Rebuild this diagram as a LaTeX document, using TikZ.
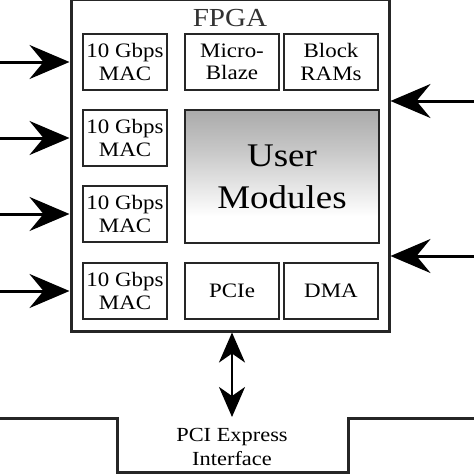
\documentclass[tikz,border=0pt]{standalone}
\usepackage{fontspec}
\setmainfont[FakeStretch=1.12]{Liberation Serif}
\usetikzlibrary{arrows.meta}

\pgfdeclareverticalshading{usershade}{100bp}{color(0bp)=(white); color(35bp)=(white); color(60bp)=(black!22); color(100bp)=(black!52)}

\begin{document}
\begin{tikzpicture}[x=1pt,y=-1pt,
    blk/.style={draw=black!85,line width=1.8pt,rectangle,inner sep=0pt,
        minimum width=94pt,minimum height=56pt,align=center,
        font=\fontsize{20.5}{22.5}\selectfont,text=black},
    mac/.style={blk,minimum width=84pt},
    bigarrow/.style={line width=3pt,-{Stealth[length=40pt,width=34pt,inset=14pt]}},
    busarrow/.style={line width=2.6pt,{Stealth[length=30pt,width=26pt,inset=9pt]}-{Stealth[length=30pt,width=26pt,inset=9pt]}}]
    \useasboundingbox (0,0) rectangle (474,474);

    \node[draw=black!85,line width=3pt,minimum width=318pt,minimum height=331.5pt,inner sep=0pt] (fpga) at (230,165.25) {};
    \node[text=black!80,font=\fontsize{26}{30}\selectfont] (fpgalabel) at (230,18) {FPGA};

    \node[mac] (mac1) at (125,62) {10 Gbps\\MAC};
    \node[mac] (mac2) at (125,138) {10 Gbps\\MAC};
    \node[mac] (mac3) at (125,214) {10 Gbps\\MAC};
    \node[mac] (mac4) at (125,291) {10 Gbps\\MAC};

    \node[blk] (mblaze) at (232,62) {Micro-\\Blaze};
    \node[blk] (bram) at (331,62) {Block\\RAMs};

    \node[blk,minimum width=194pt,minimum height=133pt,shading=usershade,
        font=\fontsize{33}{42}\selectfont] (user) at (282,176.5) {User\\Modules};

    \node[blk] (pcie) at (232,291) {PCIe};
    \node[blk] (dma) at (331,291) {DMA};

    % links
    \coordinate (in1) at (0,62);
    \coordinate (in2) at (0,138);
    \coordinate (in3) at (0,214);
    \coordinate (in4) at (0,291);
    \coordinate (out1) at (474,101);
    \coordinate (out2) at (474,256);
    \coordinate (bus) at (232,417);

    \path [bigarrow] (in1) edge node {} (fpga.west |- in1);
    \path [bigarrow] (in2) edge node {} (fpga.west |- in2);
    \path [bigarrow] (in3) edge node {} (fpga.west |- in3);
    \path [bigarrow] (in4) edge node {} (fpga.west |- in4);
    \path [bigarrow] (out1) edge node {} (fpga.east |- out1);
    \path [bigarrow] (out2) edge node {} (fpga.east |- out2);
    \path [busarrow] (fpga.south -| bus) edge node {} (bus);

    % board outline
    \draw[line width=3pt,black!85] (-5,418) -- (117,418) -- (117,472) -- (348,472) -- (348,418) -- (480,418);
    \node[align=center,text=black,font=\fontsize{20}{24}\selectfont] (pcix) at (232,447) {PCI Express\\Interface};
\end{tikzpicture}
\end{document}
